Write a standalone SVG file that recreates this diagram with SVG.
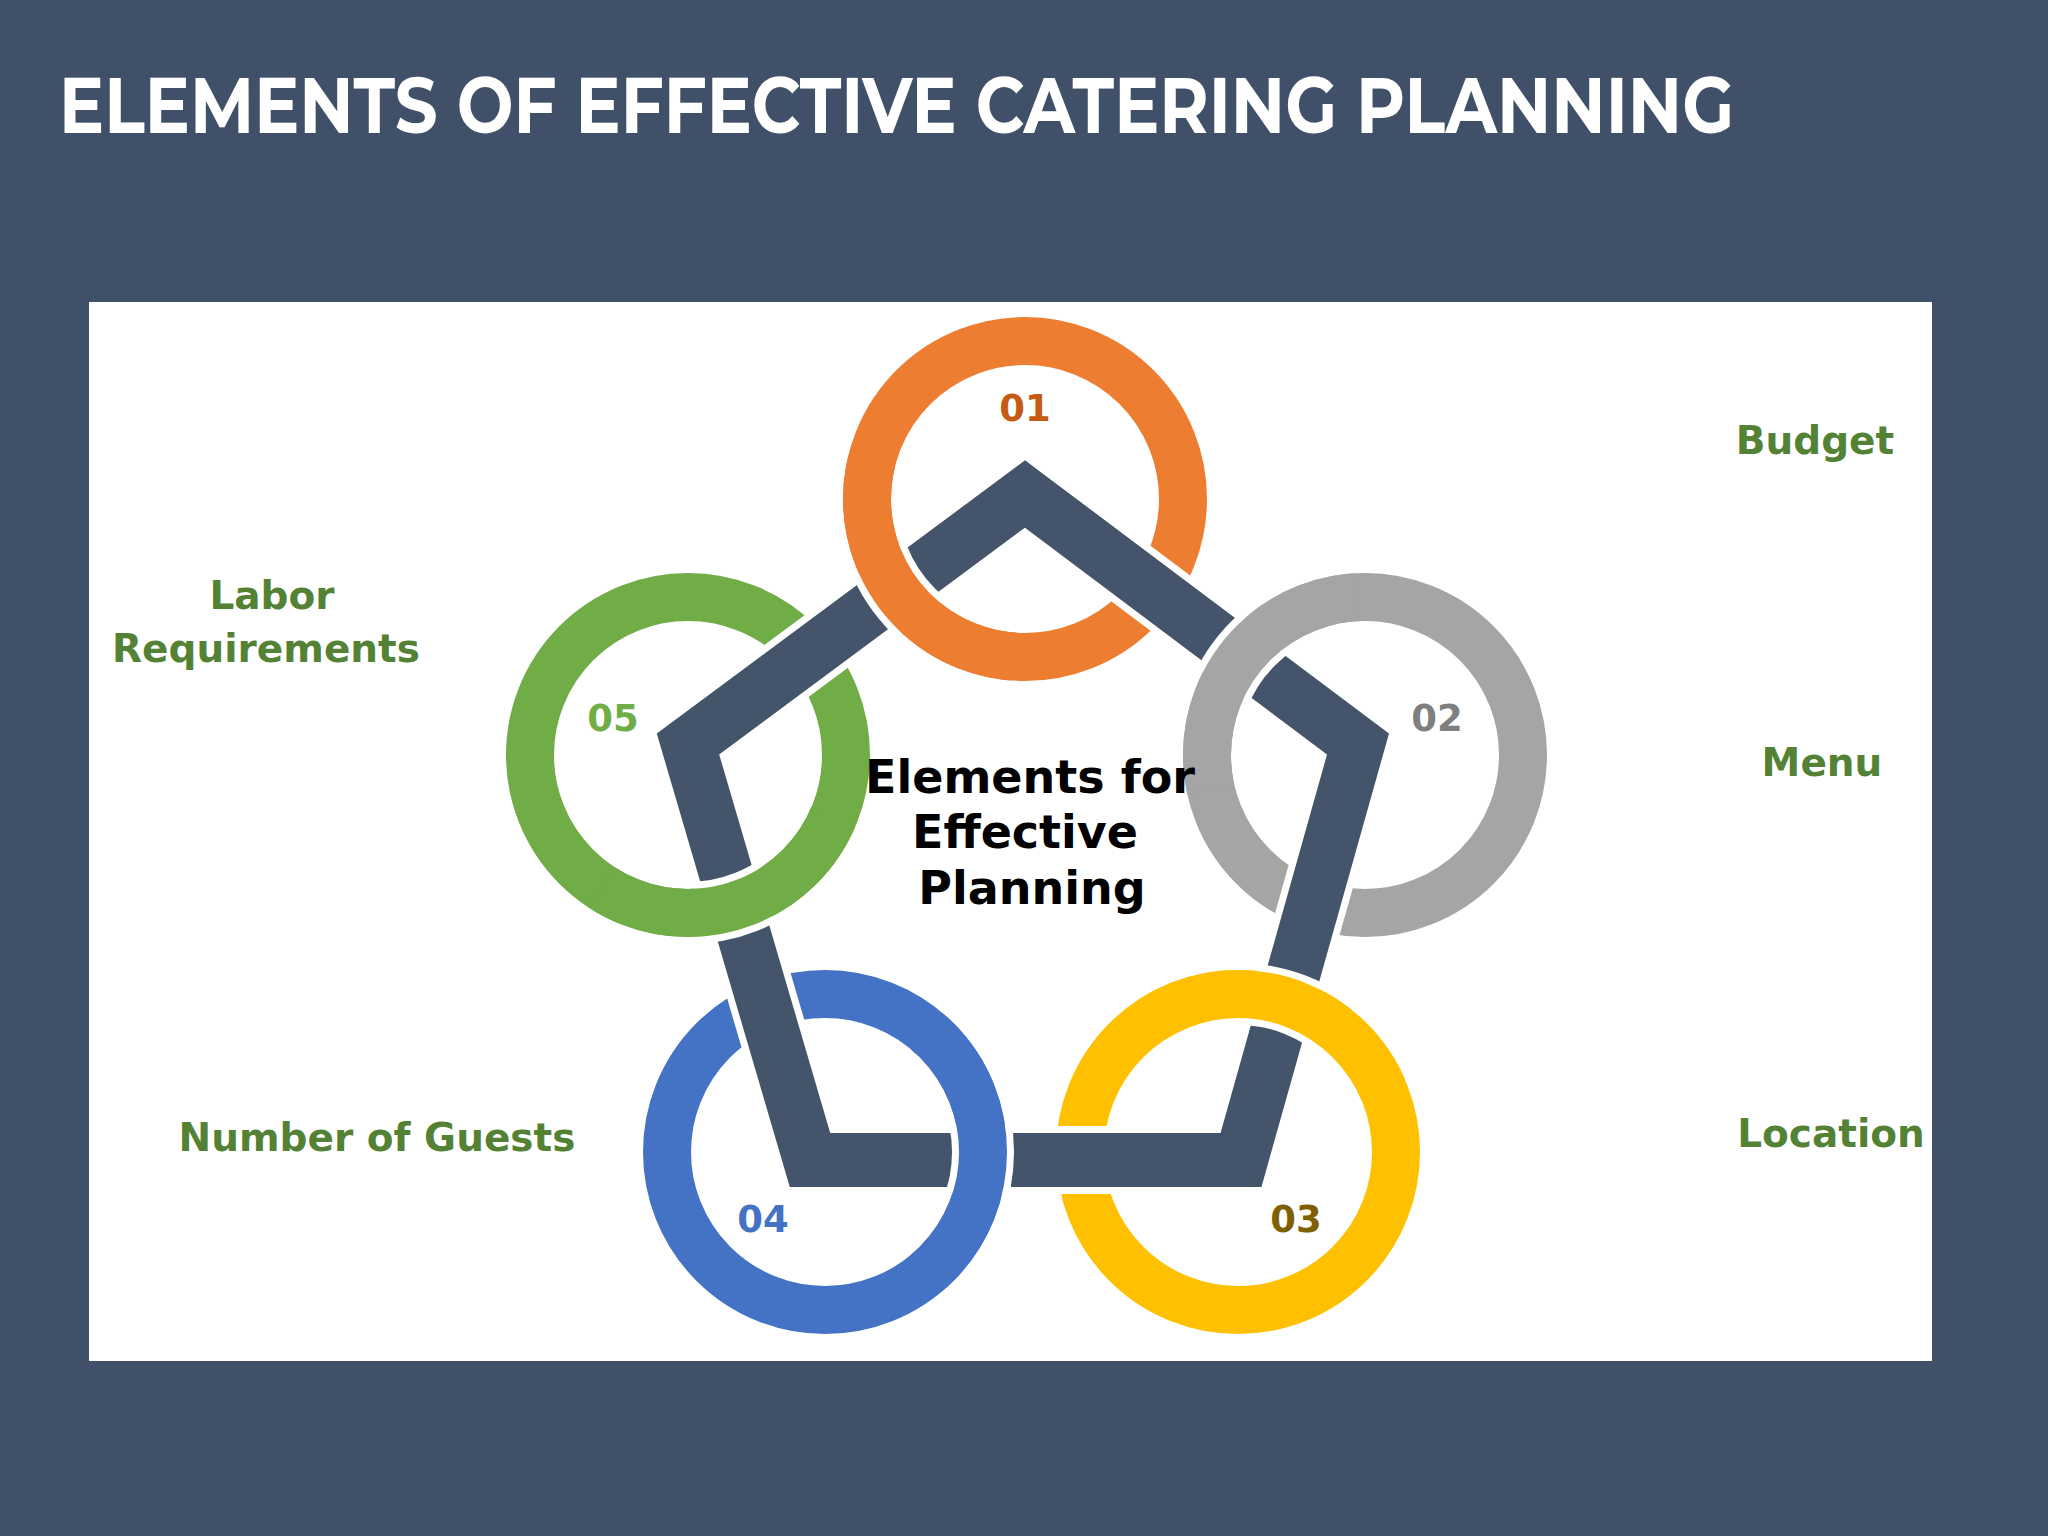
<svg xmlns="http://www.w3.org/2000/svg" width="2048" height="1536" viewBox="0 0 2048 1536">
<style>
.lbl{font-family:"DejaVu Sans",Verdana,sans-serif;font-weight:bold;font-size:39px;fill:#548235;text-anchor:middle}
.num{font-family:"DejaVu Sans",Verdana,sans-serif;font-weight:bold;font-size:37px;text-anchor:middle}
.ctr{font-family:"DejaVu Sans",Verdana,sans-serif;font-weight:bold;font-size:46px;fill:#000;text-anchor:middle}
.ring{fill:none;stroke-width:48}
.halo{fill:none;stroke-width:62;stroke:#fff}
</style>
<defs>
<clipPath id="c1"><polygon points="1025,499 1004,798 782,675 734,426"/></clipPath>
<clipPath id="c2"><polygon points="1365,755 1072,820 1127,572 1352,455"/></clipPath>
<clipPath id="c3"><polygon points="1238,1152 1072,902 1323,864 1513,1032"/></clipPath>
<clipPath id="c4"><polygon points="825,1152 1018,922 1125,1152 1018,1382"/></clipPath>
<clipPath id="c5"><polygon points="688,755 964,873 775,1042 524,1006"/></clipPath>
<mask id="pm" maskUnits="userSpaceOnUse" x="0" y="0" width="2048" height="1536">
<polygon points="1025,494 1358,744 1241,1160 810,1160 688,744" fill="none" stroke="#fff" stroke-width="70" stroke-linejoin="miter"/>
</mask>
</defs>
<rect width="2048" height="1536" fill="#3f5068"/>
<text x="59" y="133" font-family="Montserrat,'Liberation Sans',sans-serif" font-weight="bold" font-size="78" fill="#fff" textLength="1675" lengthAdjust="spacingAndGlyphs">ELEMENTS OF EFFECTIVE CATERING PLANNING</text>
<rect x="89" y="302" width="1843" height="1059" fill="#fff"/>
<g id="ring01"><circle cx="1025" cy="499" r="158" class="ring" stroke="#ed7d31"/></g>
<g id="ring02"><circle cx="1365" cy="755" r="158" class="ring" stroke="#a5a5a5"/></g>
<g id="ring03"><circle cx="1238" cy="1152" r="158" class="ring" stroke="#ffc000"/></g>
<g id="ring04"><circle cx="825" cy="1152" r="158" class="ring" stroke="#4472c4"/></g>
<g id="ring05"><circle cx="688" cy="755" r="158" class="ring" stroke="#70ad47"/></g>
<g id="connectors">
<polygon points="1025,494 1358,744 1241,1160 810,1160 688,744" fill="none" stroke="#fff" stroke-width="68" stroke-linejoin="miter"/>
<polygon points="1025,494 1358,744 1241,1160 810,1160 688,744" fill="none" stroke="#44546a" stroke-width="54" stroke-linejoin="miter"/>
</g>
<g id="overlaps">
<g clip-path="url(#c1)"><circle cx="1025" cy="499" r="158" class="halo" mask="url(#pm)"/><circle cx="1025" cy="499" r="158" class="ring" stroke="#ed7d31"/></g>
<g clip-path="url(#c2)"><circle cx="1365" cy="755" r="158" class="halo" mask="url(#pm)"/><circle cx="1365" cy="755" r="158" class="ring" stroke="#a5a5a5"/></g>
<g clip-path="url(#c3)"><circle cx="1238" cy="1152" r="158" class="halo" mask="url(#pm)"/><circle cx="1238" cy="1152" r="158" class="ring" stroke="#ffc000"/></g>
<g clip-path="url(#c4)"><circle cx="825" cy="1152" r="158" class="halo" mask="url(#pm)"/><circle cx="825" cy="1152" r="158" class="ring" stroke="#4472c4"/></g>
<g clip-path="url(#c5)"><circle cx="688" cy="755" r="158" class="halo" mask="url(#pm)"/><circle cx="688" cy="755" r="158" class="ring" stroke="#70ad47"/></g>
</g>
<g id="n01"><text x="1025" y="421" class="num" fill="#c55a11">01</text><text x="1815" y="454" class="lbl">Budget</text></g>
<g id="n02"><text x="1437" y="731" class="num" fill="#7f7f7f">02</text><text x="1822" y="776" class="lbl">Menu</text></g>
<g id="n03"><text x="1296" y="1232" class="num" fill="#7f6000">03</text><text x="1831" y="1147" class="lbl">Location</text></g>
<g id="n04"><text x="763" y="1232" class="num" fill="#4472c4">04</text><text x="377" y="1151" class="lbl">Number of Guests</text></g>
<g id="n05"><text x="613" y="731" class="num" fill="#70ad47">05</text><text x="272" y="609" class="lbl">Labor</text><text x="266" y="662" class="lbl">Requirements</text></g>
<g id="center"><text x="1030" y="793" class="ctr">Elements for</text><text x="1025" y="848" class="ctr">Effective</text><text x="1032" y="904" class="ctr">Planning</text></g>
</svg>
